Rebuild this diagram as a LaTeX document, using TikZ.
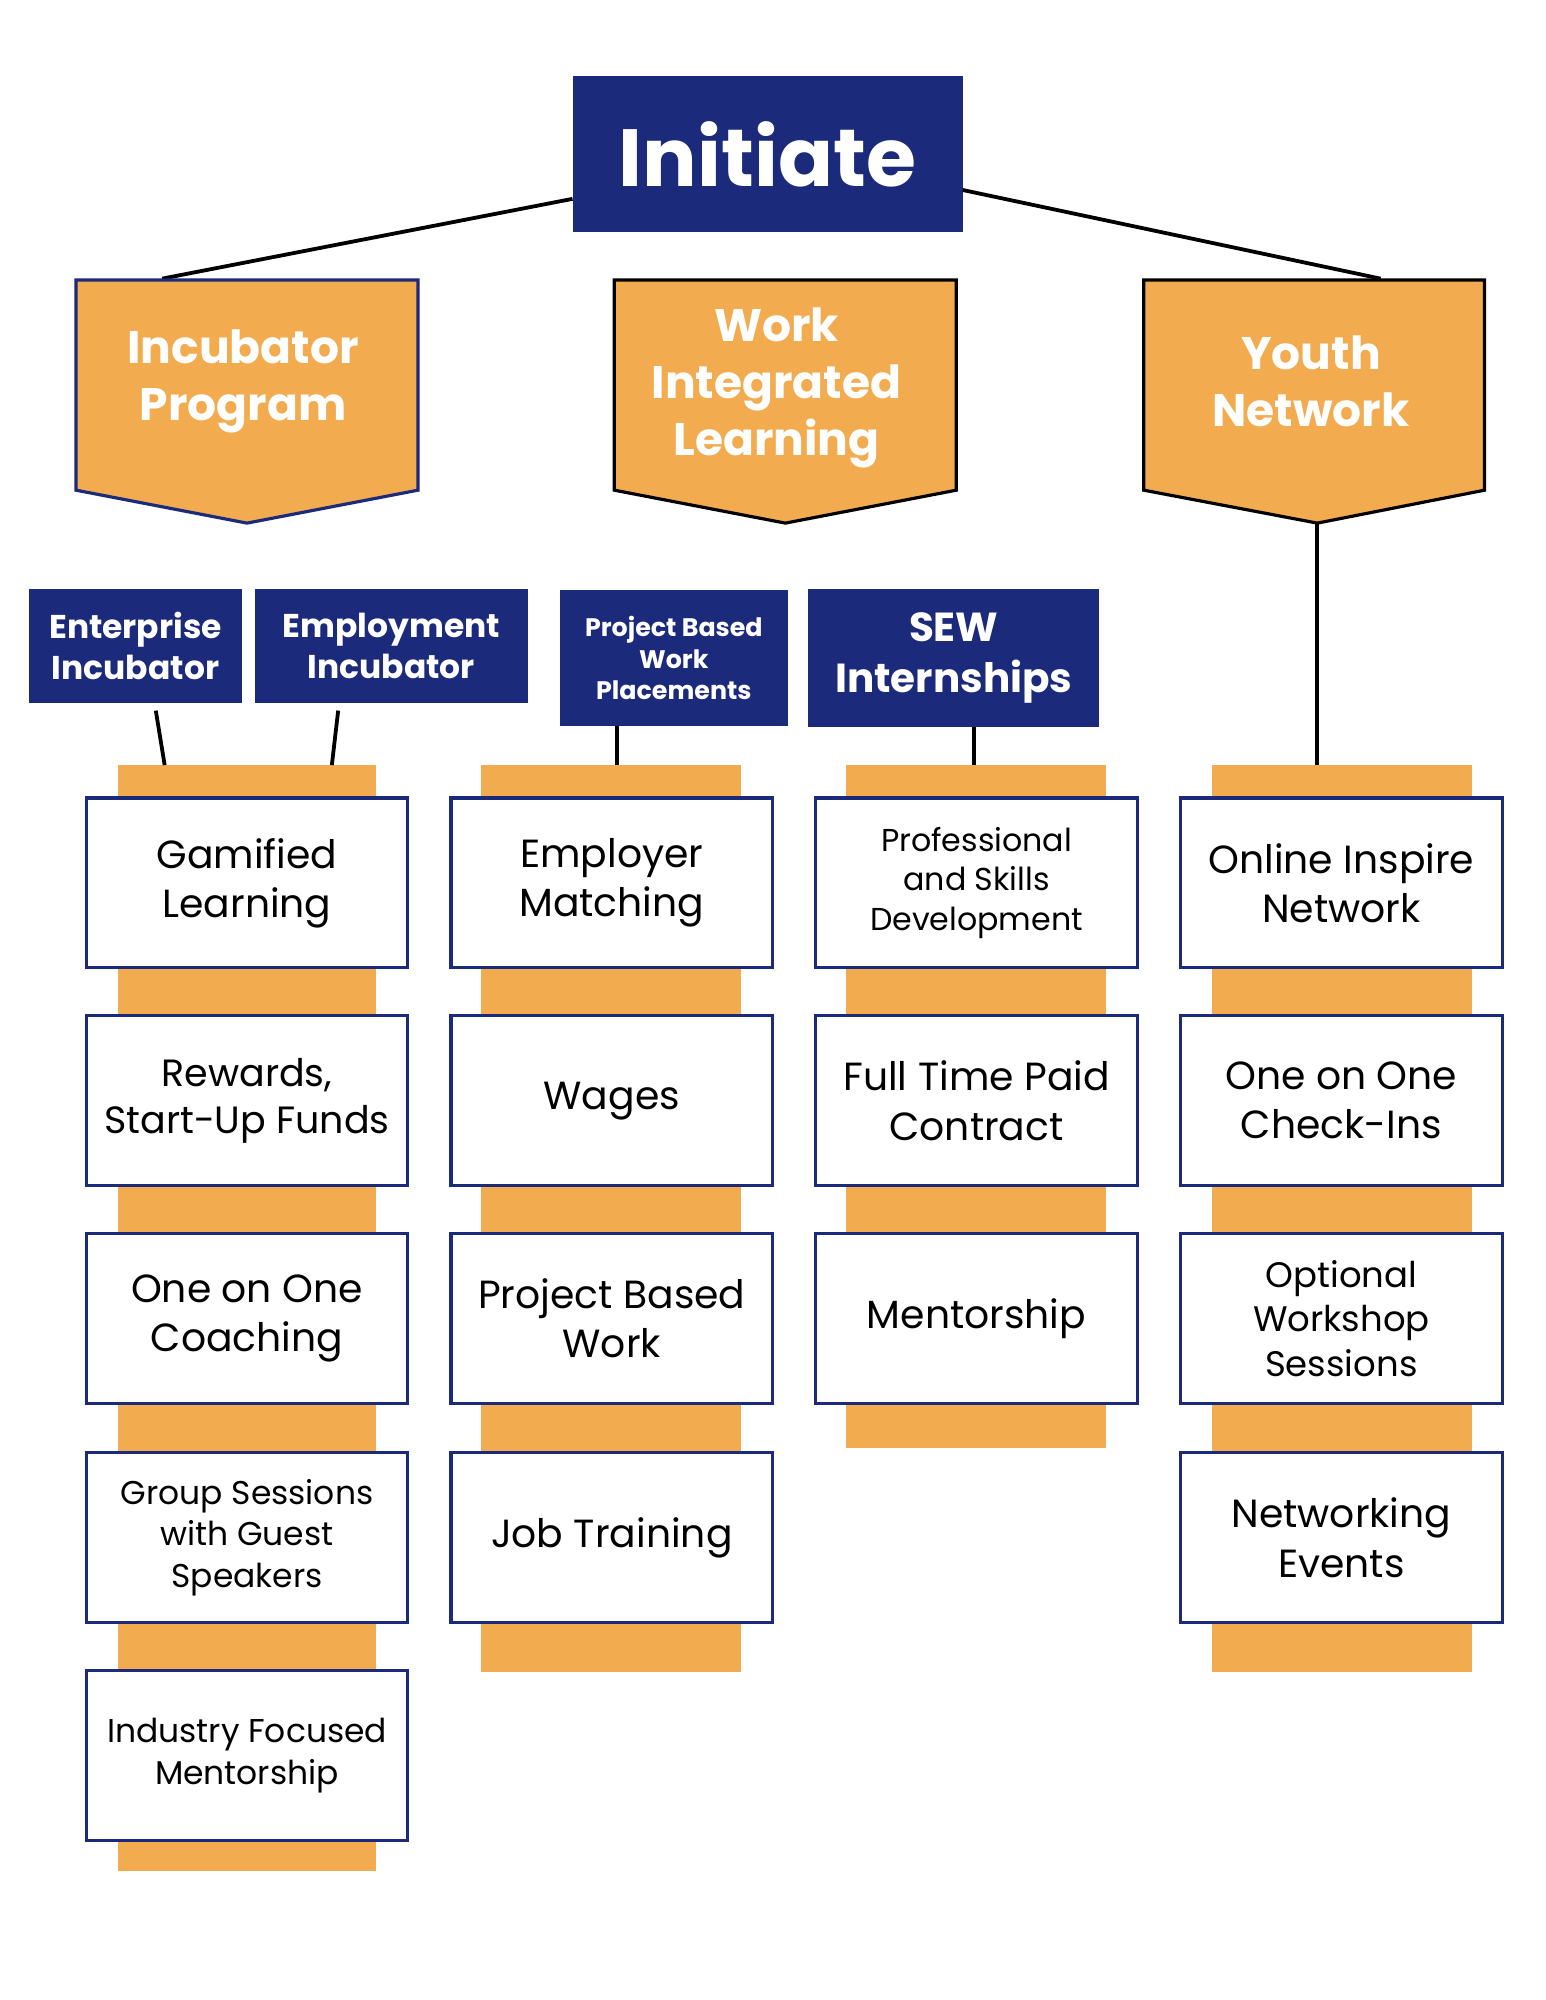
\documentclass[tikz,border=0pt]{standalone}
\usepackage{fontspec}
\setmainfont{Poppins}
\definecolor{navy}{HTML}{1C2A7C}
\definecolor{org}{HTML}{F2AB4F}
\newcommand{\myfs}[1]{\pgfmathsetmacro{\mylead}{#1*1.25}\fontsize{#1}{\mylead}\selectfont}
\begin{document}
\begin{tikzpicture}[x=1pt,y=-1pt,
  fs/.style={font=\myfs{#1}},
  nav/.style={fill=navy,text=white,inner sep=0pt,align=center},
  item/.style={draw=navy,line width=2.5pt,fill=white,minimum width=254pt,minimum height=134pt,inner sep=0pt,align=center,text=black},
  pent/.style={fill=org,line width=2.5pt},
  conn/.style={line width=3pt}]
\useasboundingbox (0,0) rectangle (1220,1579);
% top
\node[nav,minimum width=308pt,minimum height=123pt,font=\myfs{64}\bfseries] (init) at (606,121.5) {Initiate};
\coordinate (p1) at (128,220); \coordinate (p3) at (1090,220);
\draw[conn] (452,157) -- (p1);
\draw[conn] (760,150) -- (p3);
% pentagons
\draw[pent,draw=navy] (60,221) -- (330,221) -- (330,387) -- (195,413) -- (60,387) -- cycle;
\draw[pent,draw=black] (485,221) -- (755,221) -- (755,387) -- (620,413) -- (485,387) -- cycle;
\draw[pent,draw=black] (903,221) -- (1172,221) -- (1172,387) -- (1040,413) -- (903,387) -- cycle;
\node[text=white,font=\myfs{36}\bfseries,align=center] (ip) at (192,301) {Incubator\\Program};
\node[text=white,font=\myfs{36}\bfseries,align=center] (wil) at (613,306) {Work\\Integrated\\Learning};
\node[text=white,font=\myfs{36}\bfseries,align=center] (yn) at (1035,301) {Youth\\Network};
% strips
\fill[org] (93,604) rectangle (297,1477);
\fill[org] (380,604) rectangle (585,1320);
\fill[org] (668,604) rectangle (873,1143);
\fill[org] (957,604) rectangle (1162,1320);
\coordinate (yb) at (1040,413); \coordinate (ye) at (1040,604);
\draw[conn] (yb) -- (ye);
% navy labels
\node[nav,minimum width=168pt,minimum height=90pt,font=\myfs{26}\bfseries] (ei) at (107,510) {Enterprise\\Incubator};
\node[nav,minimum width=216pt,minimum height=90pt,font=\myfs{26}\bfseries] (emi) at (309,510) {Employment\\Incubator};
\node[nav,minimum width=180pt,minimum height=107pt,font=\myfs{20}\bfseries] (pbw) at (532,519.5) {Project Based\\Work\\Placements};
\node[nav,minimum width=230pt,minimum height=109pt,font=\myfs{32}\bfseries] (sew) at (753,519.5) {SEW\\Internships};
\draw[conn] (123,561) -- (130,604);
\draw[conn] (267,561) -- (262,604);
\draw[conn] (487,573) -- (487,604);
\draw[conn] (769,574) -- (769,604);
% items
\def\cA{195} \def\cB{483} \def\cC{771} \def\cD{1059}
\node[item,fs=31] (a1) at (\cA,697) {Gamified\\Learning};
\node[item,fs=30] (a2) at (\cA,869) {Rewards,\\Start-Up Funds};
\node[item,fs=31] (a3) at (\cA,1041) {One on One\\Coaching};
\node[item,fs=26] (a4) at (\cA,1214) {Group Sessions\\with Guest\\Speakers};
\node[item,fs=26] (a5) at (\cA,1386) {Industry Focused\\Mentorship};
\node[item,fs=31] (b1) at (\cB,697) {Employer\\Matching};
\node[item,fs=31] (b2) at (\cB,869) {Wages};
\node[item,fs=31] (b3) at (\cB,1041) {Project Based\\Work};
\node[item,fs=31] (b4) at (\cB,1214) {Job Training};
\node[item,fs=25] (c1) at (\cC,697) {Professional\\and Skills\\Development};
\node[item,fs=31] (c2) at (\cC,869) {Full Time Paid\\Contract};
\node[item,fs=31] (c3) at (\cC,1041) {Mentorship};
\node[item,fs=31] (d1) at (\cD,697) {Online Inspire\\Network};
\node[item,fs=31] (d2) at (\cD,869) {One on One\\Check-Ins};
\node[item,fs=28] (d3) at (\cD,1041) {Optional\\Workshop\\Sessions};
\node[item,fs=31] (d4) at (\cD,1214) {Networking\\Events};
\end{tikzpicture}
\end{document}
